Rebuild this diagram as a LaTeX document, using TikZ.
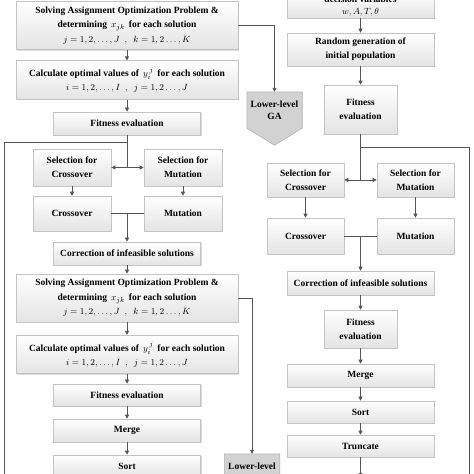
\documentclass[tikz,border=0pt]{standalone}
\usepackage{fontspec}
\setmainfont{Liberation Serif}
\usetikzlibrary{arrows.meta,shadows,backgrounds,calc}
\definecolor{lnc}{HTML}{555555}
\definecolor{boxedge}{HTML}{C4C4C4}
\definecolor{boxbot}{HTML}{E4E4E4}
\definecolor{gafill}{HTML}{D2D2D2}
\definecolor{gaedge}{HTML}{B0B0B0}
\begin{document}
\begin{tikzpicture}[x=1pt,y=-1pt,
  box/.style={draw=boxedge, line width=0.6pt, top color=white, bottom color=boxbot,
    font=\fontsize{9.5}{14}\selectfont\bfseries, align=center, inner sep=0pt,
    drop shadow={shadow xshift=1pt, shadow yshift=-1pt, fill=black!40, opacity=0.35}},
  tallbox/.style={box, font=\fontsize{9.5}{14.5}\selectfont\bfseries},
  gabox/.style={font=\fontsize{9.5}{12.5}\selectfont\bfseries, align=center, inner sep=0pt,
    minimum width=55pt, minimum height=36pt},
  ln/.style={draw=lnc, line width=0.9pt},
  arr/.style={ln, -{Triangle[length=4pt,width=4pt]}},
]
\useasboundingbox (0,0) rectangle (474,474);
\clip (0,0) rectangle (474,474);

% ---------------- left column ----------------
\node[tallbox, minimum width=222pt, minimum height=48pt] (L1) at (127,25.5)
  {Solving Assignment Optimization Problem \&\\ determining \,$x_{jk}$\, for each solution\\ $j=1,2,\ldots,J\ \ ,\ \ k=1,2\ldots,K$};
\node[box, minimum width=222pt, minimum height=38.5pt] (L2) at (127,80)
  {Calculate optimal values of \,$y_i^{\,j}$\, for each solution\\ $i=1,2,\ldots,I\ \ ,\ \ j=1,2\ldots,J$};
\node[box, minimum width=147pt, minimum height=23pt] (L3) at (127,123.5) {Fitness evaluation};
\node[box, minimum width=78pt, minimum height=37pt] (L4) at (72,167.5) {Selection for\\Crossover};
\node[box, minimum width=78pt, minimum height=37pt] (L5) at (183,167.5) {Selection for\\Mutation};
\node[box, minimum width=78pt, minimum height=35pt] (L6) at (72,213.5) {Crossover};
\node[box, minimum width=78pt, minimum height=35pt] (L7) at (183,213.5) {Mutation};
\node[box, minimum width=147pt, minimum height=23pt] (L8) at (127,253.5) {Correction of infeasible solutions};
\node[tallbox, minimum width=222pt, minimum height=48pt] (L9) at (127,298)
  {Solving Assignment Optimization Problem \&\\ determining \,$x_{jk}$\, for each solution\\ $j=1,2,\ldots,J\ \ ,\ \ k=1,2\ldots,K$};
\node[box, minimum width=222pt, minimum height=38.5pt] (L10) at (127,354.5)
  {Calculate optimal values of \,$y_i^{\,j}$\, for each solution\\ $i=1,2,\ldots,I\ \ ,\ \ j=1,2\ldots,J$};
\node[box, minimum width=147pt, minimum height=22pt] (L11) at (127,395) {Fitness evaluation};
\node[box, minimum width=147pt, minimum height=23pt] (L12) at (127,430.5) {Merge};
\node[box, minimum width=147pt, minimum height=23pt] (L13) at (127,466.5) {Sort};

% lower-level GA markers
\node[gabox] (G1) at (274.5,110) {Lower-level\\GA};
\node[gabox] (G2) at (252,472) {Lower-level\\GA};
\begin{scope}[on background layer]
  \foreach \g in {G1,G2}{
    \filldraw[fill=gafill, draw=gaedge, line width=0.6pt]
      (\g.north west) -- (\g.north east) -- (\g.south east)
      -- ($(\g.south)+(0,17)$) -- (\g.south west) -- cycle;
  }
\end{scope}

% ---------------- right column ----------------
\node[box, font=\fontsize{9.5}{12}\selectfont\bfseries, minimum width=147pt, minimum height=24pt] (R0) at (360.5,6)
  {decision variables\\ $w,A,T,\theta$};
\node[box, minimum width=147pt, minimum height=33pt] (R1) at (360.5,49.5) {Random generation of\\initial population};
\node[box, minimum width=73pt, minimum height=49pt] (R2) at (360.5,109.5) {Fitness\\evaluation};
\node[box, minimum width=77pt, minimum height=34pt] (R3) at (305.5,180) {Selection for\\Crossover};
\node[box, minimum width=77pt, minimum height=34pt] (R4) at (415.5,180) {Selection for\\Mutation};
\node[box, minimum width=77pt, minimum height=36pt] (R5) at (305.5,236) {Crossover};
\node[box, minimum width=77pt, minimum height=36pt] (R6) at (415.5,236) {Mutation};
\node[box, minimum width=147pt, minimum height=24pt] (R7) at (360.5,283) {Correction of infeasible solutions};
\node[box, minimum width=73pt, minimum height=38pt] (R8) at (360.5,329) {Fitness\\evaluation};
\node[box, minimum width=147pt, minimum height=23pt] (R9) at (360.5,375.5) {Merge};
\node[box, minimum width=147pt, minimum height=22pt] (R10) at (360.5,412) {Sort};
\node[box, minimum width=147pt, minimum height=22pt] (R11) at (360.5,446) {Truncate};

% ---------------- coordinates ----------------
\coordinate (jL) at (127,142);
\coordinate (dL) at (127,167.5);
\coordinate (mL) at (127,213.5);
\coordinate (loopL) at (4,490);
\coordinate (jR) at (360.5,147);
\coordinate (dR) at (360.5,180);
\coordinate (mR) at (360.5,236);
\coordinate (loopR) at (469,490);
\coordinate (endR) at (360.5,477);

% ---------------- connectors left ----------------
\draw[arr] (L1.south) -- (L2.north);
\draw[arr] (L2.south) -- (L3.north);
\draw[ln] (L3.south) -- (dL);
\draw[ln] (loopL) |- (jL);
\draw[arr] (dL) -- (L4.east);
\draw[arr] (dL) -- (L5.west);
\draw[arr] (L4.south) -- (L6.north);
\draw[arr] (L5.south) -- (L7.north);
\draw[ln] (L6.east) -- (L7.west);
\draw[arr] (mL) -- (L8.north);
\draw[arr] (L8.south) -- (L9.north);
\draw[arr] (L9.south) -- (L10.north);
\draw[arr] (L10.south) -- (L11.north);
\draw[arr] (L11.south) -- (L12.north);
\draw[arr] (L12.south) -- (L13.north);
\draw[arr] (L1.east) -| (G1.north);
\draw[arr] (L9.east) -| (G2.north);

% ---------------- connectors right ----------------
\draw[arr] (R0.south) -- (R1.north);
\draw[arr] (R1.south) -- (R2.north);
\draw[ln] (R2.south) -- (dR);
\draw[ln] (jR) -| (loopR);
\draw[arr] (dR) -- (R3.east);
\draw[arr] (dR) -- (R4.west);
\draw[arr] (R3.south) -- (R5.north);
\draw[arr] (R4.south) -- (R6.north);
\draw[ln] (R5.east) -- (R6.west);
\draw[arr] (mR) -- (R7.north);
\draw[arr] (R7.south) -- (R8.north);
\draw[arr] (R8.south) -- (R9.north);
\draw[arr] (R9.south) -- (R10.north);
\draw[arr] (R10.south) -- (R11.north);
\draw[arr] (R11.south) -- (endR);
\end{tikzpicture}
\end{document}
